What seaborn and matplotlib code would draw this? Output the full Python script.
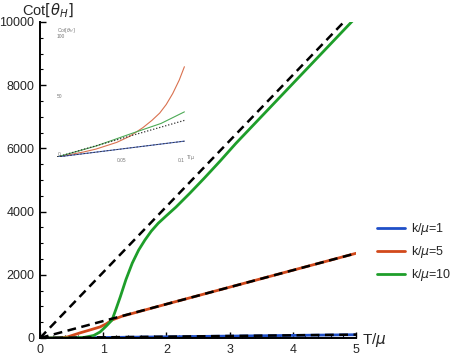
import numpy as np
import pandas as pd
import matplotlib
matplotlib.use("Agg")
import matplotlib.pyplot as plt
from matplotlib.ticker import MultipleLocator
import seaborn as sns

# -----------------------------
# Data
# -----------------------------
labels = ["k/$\\mu$=1", "k/$\\mu$=5", "k/$\\mu$=10"]
colors = ["#1f4fc8", "#d2491b", "#1e9e2a"]

t_k1 = [0, 0.5, 1.0, 2.0, 3.0, 4.0, 5.0]
cot_k1 = [0, 2, 15, 38, 60, 82, 104]

t_k5 = [0, 0.3, 0.43, 0.63, 0.8, 0.95, 1.05, 1.14, 1.3, 2.0, 3.0, 4.0, 5.0]
cot_k5 = [0, 0, 30, 160, 260, 350, 450, 570, 690, 1072, 1608, 2144, 2680]

t_k10 = [0, 0.5, 0.7, 0.85, 0.95, 1.05, 1.14, 1.2, 1.27, 1.36, 1.46, 1.56, 1.66,
         1.76, 1.87, 2.0, 2.15, 2.37, 2.6, 2.85, 3.1, 3.5, 4.0, 4.5, 5.0]
cot_k10 = [0, 0, 20, 80, 190, 380, 570, 900, 1300, 1850, 2370, 2780, 3100,
           3380, 3630, 3870, 4140, 4580, 5060, 5600, 6160, 7000, 8050, 9100, 10150]

# asymptotes (dashed), value at T/mu = 5
t_asym = [0, 5]
asym_k1 = [0, 107]
asym_k5 = [0, 2680]
asym_k10 = [0, 10400]

# inset (small-T region)
t_in_red = [0, 0.02, 0.03, 0.046, 0.056, 0.066, 0.073, 0.079, 0.084, 0.089, 0.094, 0.098]
cot_in_red = [0, 4, 6.5, 12, 17, 24, 30, 36, 43, 52, 63, 74]
t_in_green = [0, 0.03, 0.058, 0.08, 0.098]
cot_in_green = [0, 9, 19.5, 27.5, 37]
t_in_blue = [0, 0.098]
cot_in_blue = [0, 13]
t_in_dot = [0, 0.098]
cot_in_dot = [0, 30]

# -----------------------------
# Figure
# -----------------------------
sns.set_style("white")
plt.rcParams["font.family"] = ["Liberation Sans", "DejaVu Sans"]
plt.rcParams["mathtext.fontset"] = "dejavusans"

W, H = 474, 355
fig = plt.figure(figsize=(W / 100, H / 100), dpi=100)
ax = fig.add_axes([40 / W, (H - 338) / H, (356 - 40) / W, (338 - 22) / H])

df = pd.concat([
    pd.DataFrame({"T": t_k1, "cot": cot_k1, "k": labels[0]}),
    pd.DataFrame({"T": t_k5, "cot": cot_k5, "k": labels[1]}),
    pd.DataFrame({"T": t_k10, "cot": cot_k10, "k": labels[2]}),
])
sns.lineplot(data=df, x="T", y="cot", hue="k", palette=colors, linewidth=2,
             sort=False, estimator=None, ax=ax, legend=False)

for a in [asym_k10, asym_k5, asym_k1]:
    sns.lineplot(x=t_asym, y=a, color="black", linewidth=1.8,
                 linestyle=(0, (3.5, 2.2)), ax=ax)

ax.set_xlim(0, 5)
ax.set_ylim(0, 10000)
ax.set_xlabel("")
ax.set_ylabel("")
for s in ["top", "right"]:
    ax.spines[s].set_visible(False)
for s in ["left", "bottom"]:
    ax.spines[s].set_linewidth(1.4)
    ax.spines[s].set_color("black")
ax.xaxis.set_major_locator(MultipleLocator(1))
ax.xaxis.set_minor_locator(MultipleLocator(0.2))
ax.yaxis.set_major_locator(MultipleLocator(2000))
ax.yaxis.set_minor_locator(MultipleLocator(500))
ax.tick_params(which="both", direction="in", labelsize=9, color="black",
               bottom=True, left=True)
ax.tick_params(which="major", length=4, width=1)
ax.tick_params(which="minor", length=2.2, width=0.8)
ax.tick_params(axis="x", pad=4)
ax.tick_params(axis="y", pad=4)

fig.text(48 / W, (H - 11) / H, "Cot$[\\theta_H]$", fontsize=10.5,
         ha="center", va="center")
fig.text(362 / W, (H - 340) / H, "T/$\\mu$", fontsize=11, ha="left", va="center")

handles = [plt.Line2D([], [], color=c, linewidth=2) for c in colors]
fig.legend(handles, labels, loc="center left",
           bbox_to_anchor=(366 / W, (H - 252) / H), frameon=False,
           fontsize=9, handlelength=2.2, handletextpad=0.5, labelspacing=0.55)

# -----------------------------
# Inset
# -----------------------------
ins = fig.add_axes([57 / W, (H - 157) / H, (187 - 57) / W, (157 - 35) / H])
ins.patch.set_alpha(0)
sns.lineplot(x=t_in_red, y=cot_in_red, color="#d9714f", linewidth=0.8, ax=ins)
sns.lineplot(x=t_in_green, y=cot_in_green, color="#4caa55", linewidth=0.8, ax=ins)
sns.lineplot(x=t_in_blue, y=cot_in_blue, color="#4a66c0", linewidth=0.8, ax=ins)
sns.lineplot(x=t_in_blue, y=cot_in_blue, color="#333333", linewidth=0.6,
             linestyle=(0, (2, 2)), ax=ins)
sns.lineplot(x=t_in_dot, y=cot_in_dot, color="#333333", linewidth=0.9,
             linestyle=(0, (1, 1.5)), ax=ins)
ins.set_xlim(0, 0.1)
ins.set_ylim(0, 100)
ins.set_xlabel("")
ins.set_ylabel("")
ins.set_xticks([])
ins.set_yticks([])
for s in ins.spines.values():
    s.set_visible(False)

tc = "#777777"
fig.text(57 / W, (H - 31) / H, "Cot$[\\theta_H]$", fontsize=3.5, color=tc, ha="left", va="center")
fig.text(57 / W, (H - 37) / H, "100", fontsize=3.5, color=tc, ha="left", va="center")
fig.text(57 / W, (H - 97) / H, "50", fontsize=3.5, color=tc, ha="left", va="center")
fig.text(58 / W, (H - 155) / H, "0", fontsize=3.5, color=tc, ha="left", va="center")
fig.text(122 / W, (H - 161) / H, "0.05", fontsize=3.5, color=tc, ha="center", va="center")
fig.text(181 / W, (H - 161) / H, "0.1", fontsize=3.5, color=tc, ha="center", va="center")
fig.text(186 / W, (H - 158) / H, "T/$\\mu$", fontsize=3.5, color=tc, ha="left", va="center")

fig.savefig("out.png", dpi=100)
plt.close(fig)
